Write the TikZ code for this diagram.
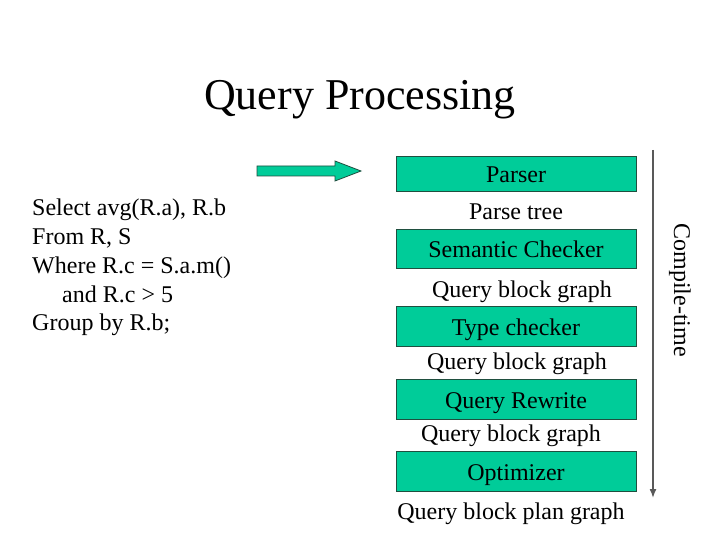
\documentclass[tikz,border=0pt]{standalone}
\usepackage{fontspec}
\setmainfont{Liberation Serif}
\usetikzlibrary{arrows.meta}
\definecolor{boxgreen}{HTML}{00CC99}
\definecolor{boxedge}{HTML}{1F4F3F}
\begin{document}
\begin{tikzpicture}[x=1pt,y=-1pt,
  stage/.style={draw=boxedge, line width=0.8pt, fill=boxgreen, minimum width=240pt, inner sep=0pt, text height=20pt, text depth=1pt, font=\fontsize{24}{28}\selectfont, text=black},
  lbl/.style={inner sep=0pt, font=\fontsize{24}{28}\selectfont, anchor=base},
  code/.style={inner sep=0pt, font=\fontsize{24}{28}\selectfont, anchor=base west}]
\useasboundingbox (0,0) rectangle (720,540);
\node[inner sep=0pt, font=\fontsize{44}{50}\selectfont, anchor=base] (title) at (360,110) {Query Processing};

\node[code] (l1) at (32,215) {Select avg(R.a), R.b};
\node[code] (l2) at (32,244) {From R, S};
\node[code] (l3) at (32,273) {Where R.c = S.a.m()};
\node[code] (l4) at (62,302) {and R.c > 5};
\node[code] (l5) at (32,330) {Group by R.b;};

\draw[draw=boxedge, line width=0.8pt, fill=boxgreen]
  (257,166) -- (335,166) -- (335,161) -- (361,171) -- (335,181) -- (335,176) -- (257,176) -- cycle;

\node[stage, minimum height=35pt] (parser) at (516,173.5) {Parser};
\node[stage, minimum height=39pt] (sem) at (516,248.5) {Semantic Checker};
\node[stage, minimum height=40pt] (type) at (516,326) {Type checker};
\node[stage, minimum height=40pt] (rew) at (516,399) {Query Rewrite};
\node[stage, minimum height=40pt] (opt) at (516,471) {Optimizer};

\node[lbl] (t1) at (516,219) {Parse tree};
\node[lbl] (t2) at (522,297) {Query block graph};
\node[lbl] (t3) at (517,369) {Query block graph};
\node[lbl] (t4) at (511,441) {Query block graph};
\node[lbl] (t5) at (511,519) {Query block plan graph};

\coordinate (ctop) at (653,150);
\coordinate (cbot) at (653,498);
\draw[draw=gray!70!black, line width=1.5pt, -{Latex[length=9pt,width=7pt]}] (ctop) -- (cbot);
\node[inner sep=0pt, font=\fontsize{24}{28}\selectfont, rotate=-90] (ct) at (680,290) {Compile-time};
\end{tikzpicture}
\end{document}
